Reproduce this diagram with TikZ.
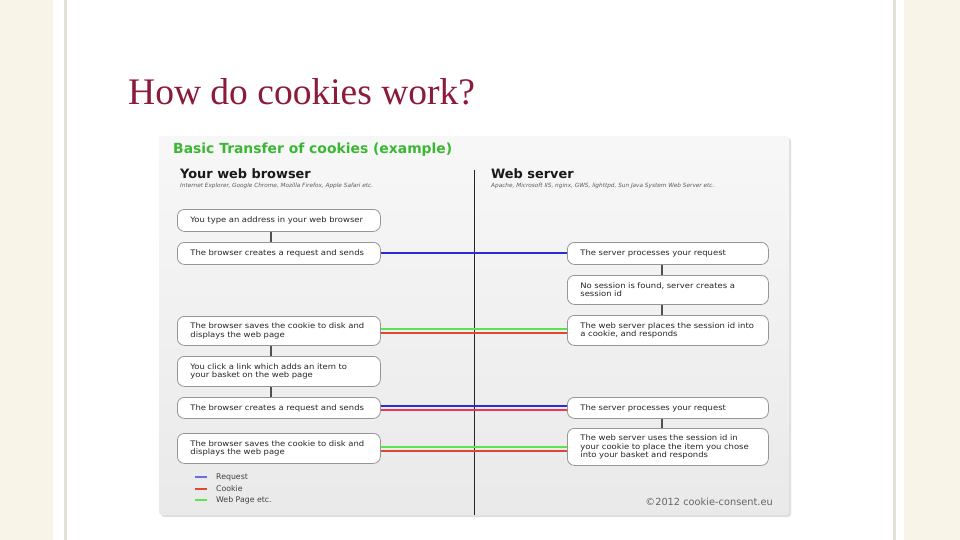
\documentclass[tikz,border=0pt]{standalone}
\usepackage{fontspec}
\setmainfont{DejaVu Sans}
\newfontfamily\titlefont{Liberation Serif}
\newfontfamily\boxfont[FakeStretch=1.11]{DejaVu Sans}
\usetikzlibrary{calc}
\definecolor{beige}{RGB}{248,244,232}
\definecolor{sideline}{RGB}{226,224,216}
\definecolor{titlered}{RGB}{140,26,58}
\definecolor{panelgreen}{RGB}{58,184,52}
\definecolor{boxborder}{RGB}{150,150,150}
\definecolor{reqblue}{RGB}{45,45,215}
\definecolor{cookred}{RGB}{225,70,50}
\definecolor{webgreen}{RGB}{90,228,80}
\definecolor{conn}{RGB}{80,80,80}
\definecolor{subgray}{RGB}{90,90,90}
\tikzset{
  box/.style={draw=boxborder, fill=white, rounded corners=7pt, line width=0.8pt,
    anchor=north west, inner ysep=1pt, align=left,
    font=\boxfont\fontsize{7.6}{8.2}\selectfont, text=black!85},
  lbox/.style={box, minimum width=203pt, text width=177pt, inner xsep=13pt},
  rbox/.style={box, minimum width=201pt, text width=175pt, inner xsep=13pt},
  vconn/.style={draw=conn, line width=2pt},
  hline/.style={line width=2pt},
  heading/.style={anchor=west, inner sep=0pt, font=\bfseries\fontsize{12.9}{14}\selectfont, text=black!90},
  subhead/.style={anchor=west, inner sep=0pt, font=\itshape\fontsize{5.75}{6.5}\selectfont, text=subgray},
  legtext/.style={anchor=west, inner sep=0pt, font=\fontsize{7.8}{8.5}\selectfont, text=black!75}
}
\begin{document}
\begin{tikzpicture}[x=1pt,y=-1pt]
\useasboundingbox (0,0) rectangle (960,540);
% slide background
\fill[beige] (0,0) rectangle (53,540);
\fill[beige] (904,0) rectangle (960,540);
\fill[white] (53,0) rectangle (904,540);
\fill[sideline] (64,0) rectangle (67,540);
\fill[sideline] (893,0) rectangle (896,540);
% slide title
\node[anchor=base west, inner sep=0pt, font=\titlefont\fontsize{37.5}{40}\selectfont, text=titlered] (title) at (128,105) {How do cookies work?};
% panel
\fill[gray!25, rounded corners=3pt] (161,138) rectangle (791,517);
\shade[top color=gray!6, bottom color=gray!17, rounded corners=3pt] (159,136) rectangle (789,515);
\node[anchor=west, inner sep=0pt, font=\bfseries\fontsize{13.9}{15}\selectfont, text=panelgreen] (ptitle) at (173,150) {Basic Transfer of cookies (example)};
\node[heading] (hb) at (180,174) {Your web browser};
\node[subhead] (sb) at (180,185.5) {Internet Explorer, Google Chrome, Mozilla Firefox, Apple Safari etc.};
\node[heading] (hs) at (491,174) {Web server};
\node[subhead] (ss) at (491,185.5) {Apache, Microsoft IIS, nginx, GWS, lighttpd, Sun Java System Web Server etc.};
\coordinate (divtop) at (474,170);
\coordinate (divbot) at (474,515);
\draw[black!85, line width=0.9pt] (divtop) -- (divbot);
% left boxes
\node[lbox, minimum height=22pt] (L1) at (177,209) {You type an address in your web browser};
\node[lbox, minimum height=22pt] (L2) at (177,242) {The browser creates a request and sends};
\node[lbox, minimum height=29pt] (L3) at (177,316) {The browser saves the cookie to disk and\\displays the web page};
\node[lbox, minimum height=30pt] (L4) at (177,356) {You click a link which adds an item to\\your basket on the web page};
\node[lbox, minimum height=21pt] (L5) at (177,397) {The browser creates a request and sends};
\node[lbox, minimum height=30pt] (L6) at (177,433) {The browser saves the cookie to disk and\\displays the web page};
% right boxes
\node[rbox, minimum height=22pt] (R1) at (567,242) {The server processes your request};
\node[rbox, minimum height=29pt] (R2) at (567,275) {No session is found, server creates a\\session id};
\node[rbox, minimum height=30pt] (R3) at (567,315) {The web server places the session id into\\a cookie, and responds};
\node[rbox, minimum height=21pt] (R4) at (567,397) {The server processes your request};
\node[rbox, minimum height=37pt] (R5) at (567,428) {The web server uses the session id in\\your cookie to place the item you chose\\into your basket and responds};
% vertical connectors
\draw[vconn] ([xshift=-8pt]L1.south) -- ([xshift=-8pt]L2.north);
\draw[vconn] ([xshift=-8pt]L3.south) -- ([xshift=-8pt]L4.north);
\draw[vconn] ([xshift=-8pt]L4.south) -- ([xshift=-8pt]L5.north);
\draw[vconn] ([xshift=-6pt]R1.south) -- ([xshift=-6pt]R2.north);
\draw[vconn] ([xshift=-6pt]R2.south) -- ([xshift=-6pt]R3.north);
\draw[vconn] ([xshift=-6pt]R4.south) -- ([xshift=-6pt]R5.north);
% horizontal message lines
\draw[hline, draw=reqblue] (L2.east) -- (L2.east -| R1.west);
\draw[hline, draw=webgreen] ([yshift=1.6pt]L3.east) -- ([yshift=1.6pt]L3.east -| R3.west);
\draw[hline, draw=cookred] ([yshift=-2.4pt]L3.east) -- ([yshift=-2.4pt]L3.east -| R3.west);
\draw[hline, draw=reqblue] ([yshift=1.5pt]L5.east) -- ([yshift=1.5pt]L5.east -| R4.west);
\draw[hline, draw=cookred!80!magenta] ([yshift=-1.7pt]L5.east) -- ([yshift=-1.7pt]L5.east -| R4.west);
\draw[hline, draw=webgreen] ([yshift=1.3pt]L6.east) -- ([yshift=1.3pt]L6.east -| R5.west);
\draw[hline, draw=cookred] ([yshift=-2.7pt]L6.east) -- ([yshift=-2.7pt]L6.east -| R5.west);
% legend
\node[legtext] (g1) at (216,477) {Request};
\node[legtext] (g2) at (216,489) {Cookie};
\node[legtext] (g3) at (216,500) {Web Page etc.};
\draw[hline, draw=reqblue!70!white] (195,477) -- (207,477);
\draw[hline, draw=cookred] (195,489) -- (207,489);
\draw[hline, draw=webgreen] (195,500) -- (207,500);
% copyright
\node[anchor=east, inner sep=0pt, font=\fontsize{9.8}{11}\selectfont, text=black!60] (copy) at (773,502) {©2012 cookie-consent.eu};
\end{tikzpicture}
\end{document}
